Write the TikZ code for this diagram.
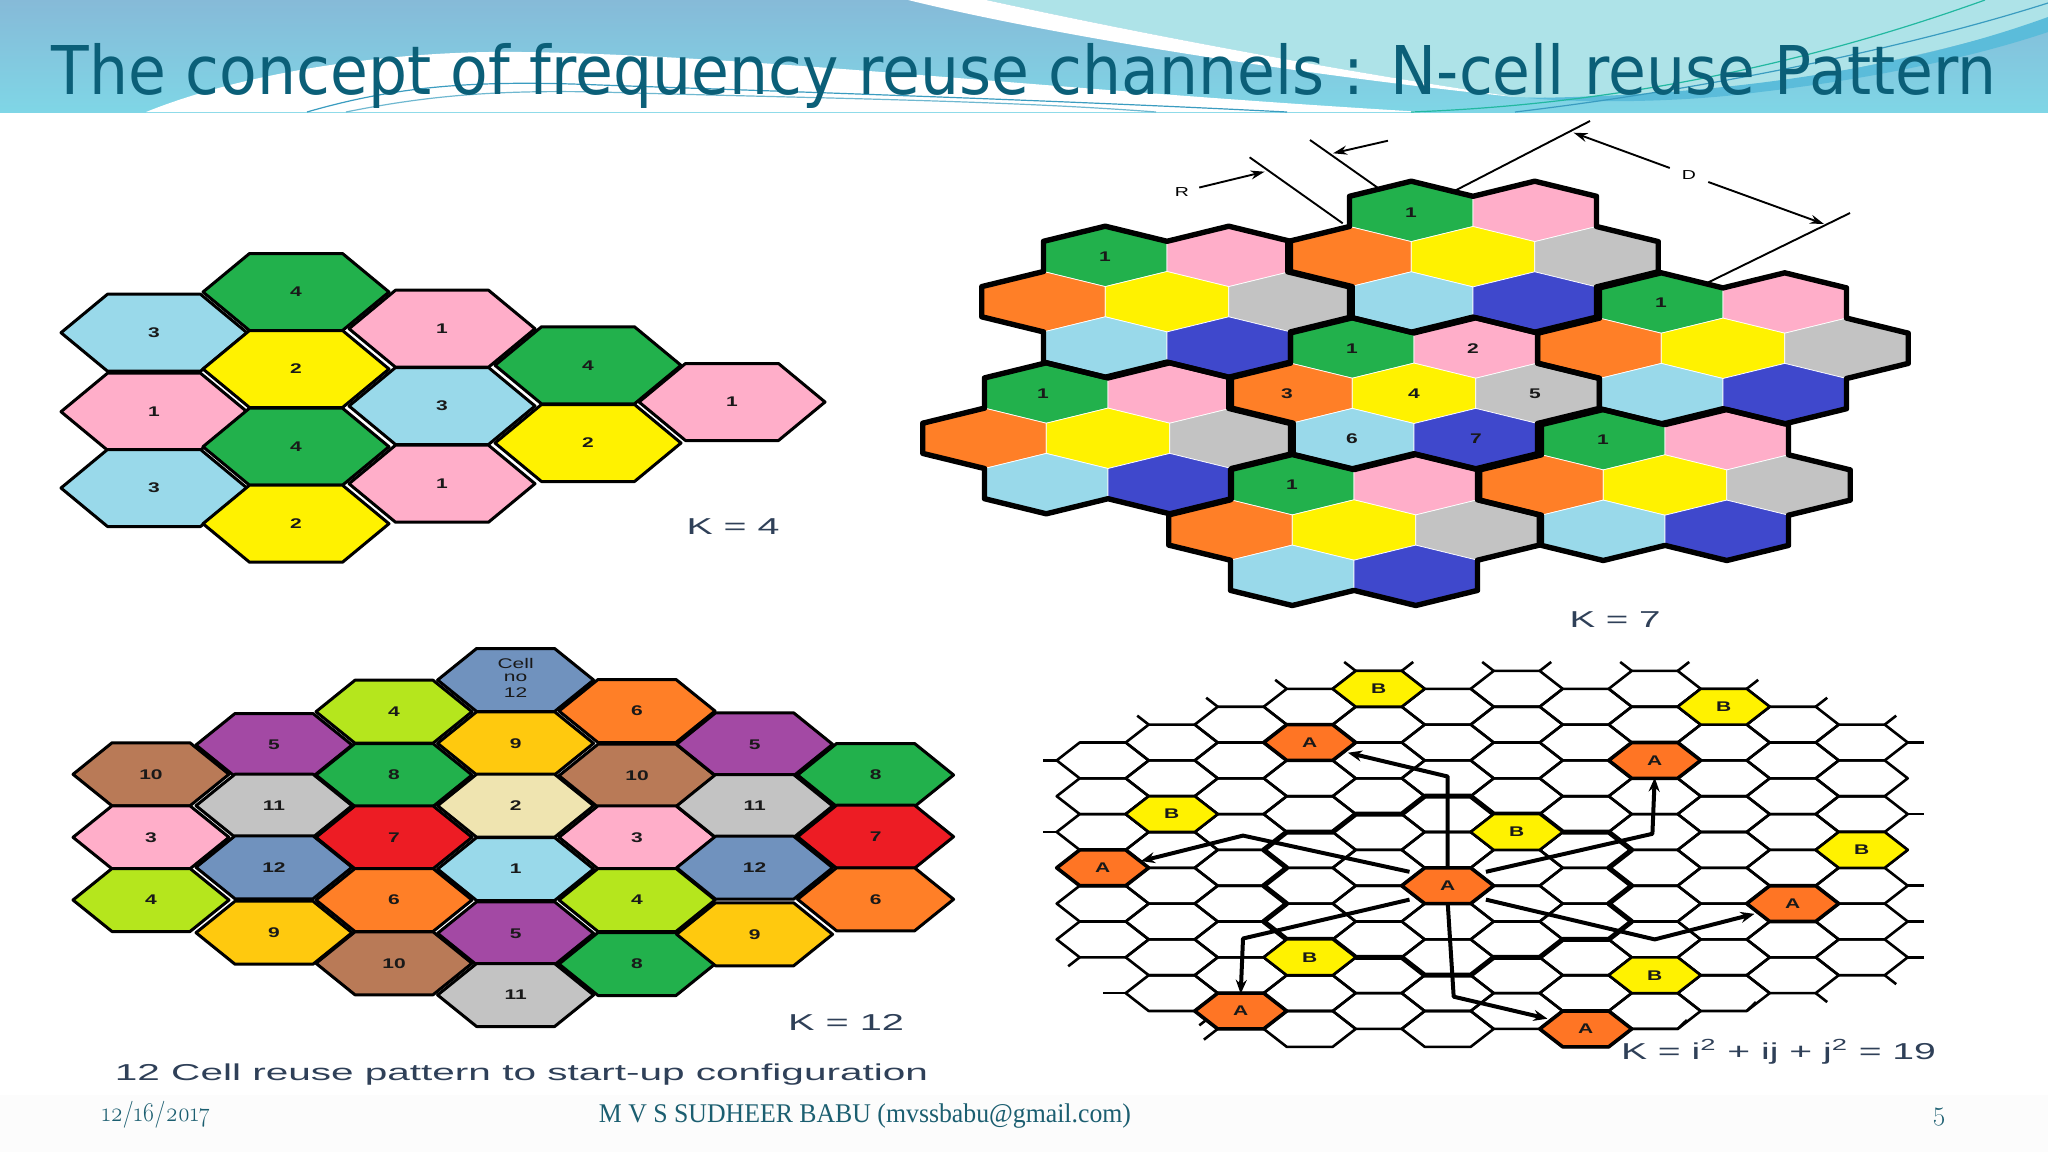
\documentclass[tikz,border=0pt]{standalone}
\usepackage{fontspec}
\setsansfont{Liberation Sans}
\newfontfamily\titlefont{DejaVu Sans}
\newfontfamily\footfont{Liberation Serif}
\newfontfamily\datefont[Numbers=OldStyle]{Latin Modern Roman}
\usepackage{xcolor}
\usetikzlibrary{arrows.meta}
\definecolor{cgreen}{HTML}{22B14C}
\definecolor{cpink}{HTML}{FFAEC9}
\definecolor{csky}{HTML}{99D9EA}
\definecolor{cyellow}{HTML}{FFF200}
\definecolor{corange}{HTML}{FF7F27}
\definecolor{cgrey}{HTML}{C3C3C3}
\definecolor{cblue}{HTML}{3F48CC}
\definecolor{csteel}{HTML}{7092BE}
\definecolor{clime}{HTML}{B5E61D}
\definecolor{cpurple}{HTML}{A349A4}
\definecolor{cgold}{HTML}{FFC90E}
\definecolor{cbrown}{HTML}{B97A57}
\definecolor{ccream}{HTML}{EFE4B0}
\definecolor{cred}{HTML}{ED1C24}
\definecolor{slate}{HTML}{2F4058}
\definecolor{teal}{HTML}{0B5F78}
\definecolor{footc}{HTML}{1B5E70}
\definecolor{cb1}{HTML}{86BAD8}
\definecolor{cb2}{HTML}{7FD6E6}
\definecolor{cb3}{HTML}{AEE3E8}
\definecolor{cb4}{HTML}{5BBCDA}
\definecolor{cb5}{HTML}{3A9CC0}
\definecolor{cb6}{HTML}{6FB8D0}
\definecolor{cb7}{HTML}{22B8A0}
\newcommand{\wide}[1]{\scalebox{1.5}[1]{#1}}
\tikzset{
	cellline/.style={line width=3pt, line join=round, draw=black},
	softline/.style={line width=0.7pt, draw=white},
	clusterline/.style={line width=5.4pt, line join=round, draw=black},
	gridline/.style={line width=2.6pt, line join=round, draw=black},
	wallline/.style={line width=5pt, line join=round, draw=black},
	num/.style={inner sep=0pt, text=black!90, font=\sffamily\bfseries\fontsize{14}{14}\selectfont},
	caption/.style={inner sep=0pt, text=slate, font=\sffamily\fontsize{23}{23}\selectfont},
	reach/.style={line width=4pt, line join=round, -{Stealth[length=14pt,width=11pt]}},
	dimline/.style={line width=1.9pt, draw=black},
	dimarrow/.style={line width=1.9pt, -{Stealth[length=14pt,width=9pt]}},
	spot/.style={inner sep=0pt, minimum width=76pt, minimum height=34pt, text=black!90, font=\sffamily\bfseries\fontsize{14}{14}\selectfont}
}
\begin{document}
\begin{tikzpicture}[x=1pt,y=-1pt]
	\useasboundingbox (0,0) rectangle (2048,1152);
	\fill[white] (0,0) rectangle (2048,1152);
	\fill[black!1] (0,1095) rectangle (2048,1152);
	\shade[top color=cb1,bottom color=cb2] (0,0) rectangle (2048,112);
	\fill[cb3] (986,0) .. controls (1100,25) and (1300,65) .. (1515,97) -- (1640,100) .. controls (1800,85) and (1950,50) .. (2048,20) -- (2048,0) -- cycle;
	\fill[white] (908,0) .. controls (1050,35) and (1300,75) .. (1515,97) .. controls (1300,65) and (1100,25) .. (986,0) -- cycle;
	\fill[cb4] (2048,17) .. controls (1930,60) and (1760,95) .. (1528,98) .. controls (1580,103) and (1680,103) .. (1760,92) .. controls (1880,78) and (1980,55) .. (2048,32) -- cycle;
	\fill[white] (146,112) .. controls (250,70) and (400,50) .. (522,52) .. controls (750,55) and (1050,90) .. (1424,112) -- cycle;
	\draw[cb5,line width=1.2pt] (307,112) .. controls (400,85) and (480,80) .. (600,85) .. controls (800,92) and (1050,100) .. (1287,112);
	\draw[cb6,line width=1.2pt] (346,112) .. controls (430,95) and (500,90) .. (600,92) .. controls (800,98) and (1000,100) .. (1156,112);
	\draw[cb7,line width=1.2pt] (1411,112) .. controls (1600,105) and (1790,70) .. (1985,0);
	\draw[cb5,line width=1.2pt] (1515,112) .. controls (1700,90) and (1900,50) .. (2048,3);
	\node[inner sep=0pt,text=teal] (title) at (1024,75.5) {\resizebox*{1944pt}{65pt}{\titlefont The concept of frequency reuse channels : N-cell reuse Pattern}};

	\foreach \x/\y/\c/\t [count=\n] in {154/332.7/csky/3,154/411.7/cpink/1,154/488/csky/3,
		296/292/cgreen/4,296/369/cyellow/2,296/446.7/cgreen/4,296/523.7/cyellow/2,
		442/328.7/cpink/1,442/406/csky/3,442/483.7/cpink/1,
		588/365.3/cgreen/4,588/443/cyellow/2,732/402/cpink/1}{
		\draw[cellline,fill=\c] (\x,\y) ++(-93,0) --++(46.5,-38.5) --++(93,0) --++(46.5,38.5) --++(-46.5,38.5) --++(-93,0) -- cycle;
		\node[num] (four\n) at (\x,\y) {\wide{\t}};
	}
	\node[caption] (capfour) at (733,527) {\resizebox{93pt}{\height}{K = 4}};

	\foreach \cx/\cy in {1473/256.7,1167/301.7,1723/348.3,1414/393.3,1108/438.3,1665/485,1354/530}{
		\begin{scope}[shift={(\cx,\cy)},x=61.75pt,y=15.1pt]
			\foreach \x/\y/\c in {-1/3/cgreen,1/3/cpink,-2/0/corange,0/0/cyellow,2/0/cgrey,-1/-3/csky,1/-3/cblue}{
				\draw[softline,fill=\c] (\x,\y) ++(0,2) --++(1,-1) --++(0,-2) --++(-1,-1) --++(-1,1) --++(0,2) -- cycle;
			}
		\end{scope}
	}
	\foreach \cx/\cy in {1473/256.7,1167/301.7,1723/348.3,1414/393.3,1108/438.3,1665/485,1354/530}{
		\begin{scope}[shift={(\cx,\cy)},x=61.75pt,y=15.1pt]
			\draw[clusterline] (-1,5) -- (0,4) -- (1,5) -- (2,4) -- (2,2) -- (3,1) -- (3,-1) -- (2,-2) -- (2,-4) -- (1,-5) -- (0,-4) -- (-1,-5) -- (-2,-4) -- (-2,-2) -- (-3,-1) -- (-3,1) -- (-2,2) -- (-2,4) -- cycle;
		\end{scope}
	}
	\foreach \x/\y [count=\n] in {1411/213,1105/256.7,1661/303,1043/393.3,1603/440,1292/485}{
		\node[num] (seed\n) at (\x,\y) {\wide{1}};
	}
	\foreach \x/\y/\t [count=\n] in {1352/348.3/1,1473/348.3/2,1287/393.3/3,1414/393.3/4,1535/393.3/5,1352/438.3/6,1476/438.3/7}{
		\node[num] (mid\n) at (\x,\y) {\wide{\t}};
	}
	\node[caption] (capseven) at (1615,620) {\resizebox{91pt}{\height}{K = 7}};
	\node[inner sep=10pt,font=\sffamily\fontsize{13}{13}\selectfont] (labR) at (1182,191.7) {\wide{R}};
	\node[inner sep=12pt,font=\sffamily\fontsize{13}{13}\selectfont] (labD) at (1689,175) {\wide{D}};
	\coordinate (ra) at (1249.6,157.3);
	\coordinate (rb) at (1342.7,223.3);
	\coordinate (rc) at (1310,140);
	\coordinate (rd) at (1378.5,188.3);
	\coordinate (da) at (1590,121);
	\coordinate (db) at (1453,191.7);
	\coordinate (dc) at (1850,213);
	\coordinate (dd) at (1707,283);
	\coordinate (rtip) at (1264.6,171.7);
	\coordinate (stail) at (1388,140.7);
	\coordinate (stip) at (1333,153.3);
	\coordinate (dtip) at (1573.6,132.7);
	\coordinate (etip) at (1824,224);
	\draw[dimline] (ra) -- (rb) (rc) -- (rd) (da) -- (db) (dc) -- (dd);
	\draw[dimarrow] (labR) -- (rtip);
	\draw[dimarrow] (stail) -- (stip);
	\draw[dimarrow] (labD) -- (dtip);
	\draw[dimarrow] (labD) -- (etip);

	\foreach \x/\y/\c/\t [count=\n] in {151/774.3/cbrown/10,151/837.3/cpink/3,151/900/clime/4,
		274/745/cpurple/5,274/805.7/cgrey/11,274/867.3/csteel/12,274/932.7/cgold/9,
		394/711.7/clime/4,394/775/cgreen/8,394/837.3/cred/7,394/900/corange/6,394/963.3/cbrown/10,
		515.6/680/csteel/{},515.6/743.3/cgold/9,515.6/805.7/ccream/2,515.6/869/csky/1,515.6/933.3/cpurple/5,515.6/995/cgrey/11,
		637/711/corange/6,637/775.7/cbrown/10,637/837.3/cpink/3,637/900/clime/4,637/964/cgreen/8,
		754.6/744.3/cpurple/5,754.6/806/cgrey/11,754.6/867.7/csteel/12,754.6/934.3/cgold/9,
		875.6/775/cgreen/8,875.6/836.7/cred/7,875.6/899.3/corange/6}{
		\draw[cellline,fill=\c] (\x,\y) ++(-78,0) --++(39,-31.5) --++(78,0) --++(39,31.5) --++(-39,31.5) --++(-78,0) -- cycle;
		\node[num] (twelve\n) at (\x,\y) {\wide{\t}};
	}
	\node[num,font=\sffamily\fontsize{14}{14}\selectfont] (cellno) at (515.6,678) {\wide{\shortstack{Cell\\[3pt]no\\[3pt]12}}};
	\node[caption] (captwelve) at (846,1022) {\resizebox{116pt}{\height}{K = 12}};
	\node[caption] (capstart) at (521.5,1075) {\resizebox{813pt}{\height}{12 Cell reuse pattern to start-up configuration}};

	\begin{scope}[shift={(1447.7,885.7)},x=23pt,y=17.9pt]
		\foreach \i/\a/\b in {-5/-7/3,-4/-8/6,-3/-9/7,-2/-10/8,-1/-11/7,0/-10/8,1/-11/7,2/-10/8,3/-11/7,4/-10/6,5/-9/5,6/-8/4}{
			\pgfmathtruncatemacro{\nxt}{\a+2}
			\foreach \j in {\a,\nxt,...,\b}{
				\draw[gridline] (3*\i-2,-\j) --++(1,-1) --++(2,0) --++(1,1) --++(-1,1) --++(-2,0) -- cycle;
			}
		}
		\foreach \i/\j in {-3/11,3/11,9/11,-6/10,-9/9,-12/8}{
			\draw[gridline] (\i-1,\j+1) --++(-0.5,0.5);
		}
		\foreach \i/\j in {-3/11,3/11,9/11,12/10,15/9,18/8}{
			\draw[gridline] (\i+1,\j+1) --++(0.5,0.5);
		}
		\foreach \j in {8,4,0,-2,-4}{
			\draw[gridline] (20,\j) --++(0.7,0);
		}
		\foreach \j in {7,3}{
			\draw[gridline] (-17,\j) --++(-0.6,0);
		}
		\draw[gridline] (-14,-6) --++(-1,0);
		\draw[gridline] (-16,-4) --++(-0.5,-0.5);
		\draw[gridline] (-10,-8) --++(-0.6,-0.6);
		\draw[gridline] (-10,-7) --++(-0.8,-0.8);
		\draw[gridline] (19,-5) --++(0.5,-0.5);
		\draw[gridline] (16,-6) --++(0.5,-0.5);
		\draw[gridline] (13,-7) --++(0.4,0.5);
		\draw[gridline] (8,-8) --++(2,0) --++(0.4,0.5);
		\draw[wallline] (-1,5) -- (1,5) -- (2,4) -- (4,4) -- (5,3) -- (7,3) -- (8,2) -- (7,1) -- (8,0) -- (7,-1) -- (8,-2) -- (7,-3) -- (5,-3) -- (4,-4) -- (2,-4) -- (1,-5) -- (-1,-5) -- (-2,-4) -- (-4,-4) -- (-5,-3) -- (-7,-3) -- (-8,-2) -- (-7,-1) -- (-8,0) -- (-7,1) -- (-8,2) -- (-7,3) -- (-5,3) -- (-4,4) -- (-2,4) -- cycle;
		\foreach \x/\y [count=\n from 0] in {0/0,-6/8,9/7,-15/1,15/-1,-9/-7,6/-8}{
			\draw[cellline,line width=3.6pt,fill=corange!92!red] (\x,\y) ++(-2,0) --++(1,-1) --++(2,0) --++(1,1) --++(-1,1) --++(-2,0) -- cycle;
			\node[spot] (a\n) at (\x,\y) {\wide{A}};
		}
		\foreach \x/\y [count=\n] in {-3/11,12/10,-12/4,3/3,18/2,-6/-4,9/-5}{
			\draw[gridline,fill=cyellow] (\x,\y) ++(-2,0) --++(1,-1) --++(2,0) --++(1,1) --++(-1,1) --++(-2,0) -- cycle;
			\node[spot] (b\n) at (\x,\y) {\wide{B}};
		}
		\coordinate (k1) at (0,6.1);
		\coordinate (k2) at (8.9,2.9);
		\coordinate (k3) at (-8.9,2.8);
		\coordinate (k4) at (9,-3);
		\coordinate (k5) at (-8.9,-2.95);
		\coordinate (k6) at (0.26,-6.2);
		\draw[reach] (a0.north) -- (k1) -- (a1.-15);
		\draw[reach] (a0.20) -- (k2) -- (a2.south);
		\draw[reach] (a0.160) -- (k3) -- (a3.10);
		\draw[reach] (a0.-20) -- (k4) -- (a4.195);
		\draw[reach] (a0.200) -- (k5) -- (a5.north);
		\draw[reach] (a0.south) -- (k6) -- (a6.165);
	\end{scope}
	\node[caption] (capnineteen) at (1778.5,1052) {\resizebox{315pt}{\height}{K = i\textsuperscript{2} + ij + j\textsuperscript{2} = 19}};

	\node[inner sep=0pt,text=footc] (datefoot) at (156,1115) {\resizebox{108pt}{\height}{\datefont\fontsize{27}{27}\selectfont 12/16/2017}};
	\node[inner sep=0pt,text=footc] (namefoot) at (865,1116) {\resizebox{532pt}{\height}{\footfont\fontsize{27}{27}\selectfont M V S SUDHEER BABU (mvssbabu@gmail.com)}};
	\node[inner sep=0pt,text=footc] (pagefoot) at (1939,1117) {\datefont\fontsize{27}{27}\selectfont 5};
\end{tikzpicture}
\end{document}
